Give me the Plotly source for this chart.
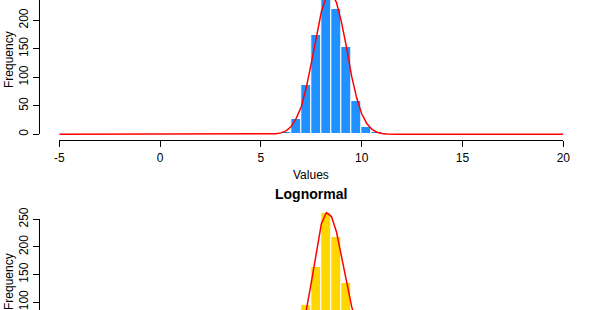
import plotly.graph_objects as go

# ---------------- data ----------------
# histogram bins (centres, bin width 0.5)
norm_bin_centres = [6.25, 6.75, 7.25, 7.75, 8.25, 8.75, 9.25, 9.75, 10.25, 10.75]
norm_counts = [4, 27, 87, 175, 240, 219, 153, 59, 13, 4]

lnorm_bin_centres = [6.25, 6.75, 7.25, 7.75, 8.25, 8.75, 9.25, 9.75, 10.25, 10.75, 11.25]
lnorm_counts = [3, 22, 95, 163, 261, 218, 135, 60, 21, 6, 2]

# fitted density curves (scaled to counts), sampled every 0.25
norm_curve_x = [-5, 5.25, 5.5, 5.75, 6.0, 6.25, 6.5, 6.75, 7.0, 7.25, 7.5, 7.75, 8.0,
                8.25, 8.5, 8.75, 9.0, 9.25, 9.5, 9.75, 10.0, 10.25, 10.5, 10.75,
                11.0, 11.25, 11.5, 11.75, 20]
norm_curve_y = [0, 0.1, 0.3, 0.9, 2.5, 6, 13.5, 28, 48, 82, 125, 170, 215,
                242, 249, 231, 196, 152, 102, 64, 36, 19, 9, 3.7,
                1.4, 0.5, 0.2, 0.05, 0]

lnorm_curve_x = [-5, 5.5, 5.75, 6.0, 6.25, 6.5, 6.75, 7.0, 7.25, 7.5, 7.75, 8.0, 8.25,
                 8.5, 8.75, 9.0, 9.25, 9.5, 9.75, 10.0, 10.25, 10.5, 10.75, 11.0,
                 11.25, 11.5, 11.75, 12.0, 20]
lnorm_curve_y = [0, 0, 0.2, 0.8, 3, 9, 22, 46, 85, 135, 192, 242, 262,
                 255, 227, 180, 134, 92, 60, 37, 21, 11.5, 6, 3,
                 1.4, 0.7, 0.3, 0.1, 0]

x_ticks = [-5, 0, 5, 10, 15, 20]
x_tick_labels = ["-5", "0", "5", "10", "15", "20"]
y_ticks = [0, 50, 100, 150, 200, 250]
y_tick_labels = ["0", "50", "100", "150", "200", "250"]

# ---------------- layout helpers ----------------
W, H = 590, 310
def px(x):
    return x / W
def py(y):
    return 1 - y / H

FONT = "Liberation Sans, Arial, sans-serif"
BLUE = "#1E90FF"
GOLD = "#FFD700"

fig = go.Figure()

# top panel: normal
fig.add_trace(go.Bar(x=norm_bin_centres, y=norm_counts, width=0.5,
                     marker=dict(color=BLUE, line=dict(color="white", width=1)),
                     xaxis="x", yaxis="y", showlegend=False, hoverinfo="skip"))
fig.add_trace(go.Scatter(x=norm_curve_x, y=norm_curve_y, mode="lines",
                         line=dict(color="red", width=1.5),
                         xaxis="x", yaxis="y", showlegend=False, hoverinfo="skip"))
# bottom panel: lognormal
fig.add_trace(go.Bar(x=lnorm_bin_centres, y=lnorm_counts, width=0.5,
                     marker=dict(color=GOLD, line=dict(color="white", width=1)),
                     xaxis="x2", yaxis="y2", showlegend=False, hoverinfo="skip"))
fig.add_trace(go.Scatter(x=lnorm_curve_x, y=lnorm_curve_y, mode="lines",
                         line=dict(color="red", width=1.5),
                         xaxis="x2", yaxis="y2", showlegend=False, hoverinfo="skip"))
# carriers for the drawn (R-style) y axes
fig.add_trace(go.Scatter(x=[None], y=[None], xaxis="x", yaxis="y3",
                         showlegend=False, hoverinfo="skip"))
fig.add_trace(go.Scatter(x=[None], y=[None], xaxis="x2", yaxis="y4",
                         showlegend=False, hoverinfo="skip"))

xdom = [px(59.3), px(563.3)]
k_top = 0.57      # px per count, top panel
k_bot = 0.5513    # px per count, bottom panel

axis_common = dict(showline=True, linecolor="black", linewidth=1,
                   ticks="outside", ticklen=6, tickwidth=1, tickcolor="black",
                   showgrid=False, zeroline=False, automargin=False,
                   ticklabeloverflow="allow",
                   tickfont=dict(family=FONT, size=12, color="black"))

fig.update_layout(
    template="none",
    width=W, height=H,
    margin=dict(l=0, r=0, t=0, b=0, pad=0),
    paper_bgcolor="white", plot_bgcolor="rgba(0,0,0,0)",
    font=dict(family=FONT, size=12, color="black"),
    bargap=0,
    xaxis=dict(domain=xdom, range=[x_ticks[0], x_ticks[-1]], anchor="y",
               tickvals=x_ticks, ticktext=x_tick_labels, **axis_common),
    yaxis=dict(domain=[py(140.3), 1], range=[-6 / k_top, 134.3 / k_top],
               visible=False, automargin=False),
    yaxis3=dict(domain=[py(134.3), 1], range=[0, 134.3 / k_top], anchor="free",
                position=px(39), side="left", tickvals=y_ticks,
                ticktext=y_tick_labels, tickangle=-90, **axis_common),
    xaxis2=dict(domain=xdom, range=[x_ticks[0], x_ticks[-1]], anchor="y2",
                visible=False, automargin=False),
    yaxis2=dict(domain=[0, py(206)], range=[100 - 8 / k_bot, 250 + 13.3 / k_bot],
                visible=False, automargin=False),
    yaxis4=dict(domain=[0, py(219.3)], range=[100 - 8 / k_bot, 250], anchor="free",
                position=px(39), side="left", tickvals=y_ticks,
                ticktext=y_tick_labels, tickangle=-90, **axis_common),
    annotations=[
        dict(text="Values", x=px(311), y=py(175), xref="paper", yref="paper",
             showarrow=False, xanchor="center", yanchor="middle",
             font=dict(family=FONT, size=12, color="black")),
        dict(text="Frequency", x=px(9), y=py(60), xref="paper", yref="paper",
             textangle=-90, showarrow=False, xanchor="center", yanchor="middle",
             font=dict(family=FONT, size=12, color="black")),
        dict(text="Frequency", x=px(9), y=py(282), xref="paper", yref="paper",
             textangle=-90, showarrow=False, xanchor="center", yanchor="middle",
             font=dict(family=FONT, size=12, color="black")),
        dict(text="<b>Lognormal</b>", x=px(310.5), y=py(194), xref="paper", yref="paper",
             showarrow=False, xanchor="center", yanchor="middle",
             font=dict(family=FONT, size=14, color="black")),
    ],
)

fig.write_html("out.html")
